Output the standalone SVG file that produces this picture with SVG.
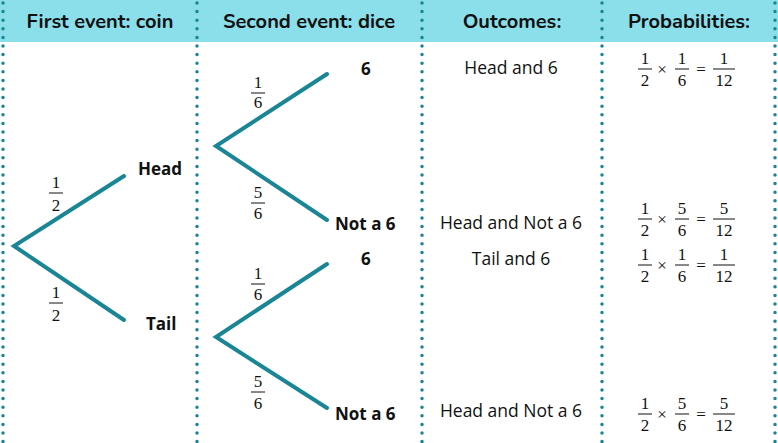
<svg xmlns="http://www.w3.org/2000/svg" width="778" height="443" viewBox="0 0 778 443">
<style>
.h{font-family:"Nunito","Open Sans","Liberation Sans",sans-serif;font-weight:bold;font-size:20px;fill:#111;text-anchor:middle}
.l{font-family:"Open Sans","Liberation Sans",sans-serif;font-weight:bold;font-size:17px;fill:#111}
.o{font-family:"Open Sans","Liberation Sans",sans-serif;font-size:17.5px;fill:#111;text-anchor:middle}
.f{font-family:"Liberation Serif",serif;font-size:17px;fill:#111;text-anchor:middle}
.fb{stroke:#111;stroke-width:1}
.br{stroke:#1a8594;stroke-width:4;stroke-linecap:round;fill:none}
.dot{stroke:#1a8594;stroke-width:3.5;stroke-linecap:round;stroke-dasharray:0 8.6}
</style>
<rect x="0" y="0" width="778" height="42" fill="#8adfeb"/>
<g id="dividers">
<line class="dot" x1="3" y1="3" x2="3" y2="443"/>
<line class="dot" x1="197" y1="3" x2="197" y2="443"/>
<line class="dot" x1="422" y1="3" x2="422" y2="443"/>
<line class="dot" x1="602" y1="3" x2="602" y2="443"/>
<line class="dot" x1="775" y1="3" x2="775" y2="443"/>
</g>
<g id="headers">
<text class="h" x="100" y="28">First event: coin</text>
<text class="h" x="309" y="28">Second event: dice</text>
<text class="h" x="512" y="28">Outcomes:</text>
<text class="h" x="689" y="28">Probabilities:</text>
</g>
<g id="connectors">
<polyline class="br" points="124,176 14,246 124,320"/>
<polyline class="br" points="327,74 216,146 327,220"/>
<polyline class="br" points="327,264 216,337 327,408"/>
</g>
<g id="node-head"><text class="l" x="138" y="175">Head</text></g>
<g id="node-tail"><text class="l" x="146" y="330">Tail</text></g>
<g id="node-6a"><text class="l" x="361" y="75">6</text></g>
<g id="node-not6a"><text class="l" x="335" y="230">Not a 6</text></g>
<g id="node-6b"><text class="l" x="361" y="265">6</text></g>
<g id="node-not6b"><text class="l" x="335" y="420">Not a 6</text></g>
<g id="branch-labels">
<text class="f" x="56" y="188">1</text><line class="fb" x1="49" y1="193" x2="63" y2="193"/><text class="f" x="56" y="211">2</text>
<text class="f" x="56" y="298">1</text><line class="fb" x1="49" y1="303" x2="63" y2="303"/><text class="f" x="56" y="321">2</text>
<text class="f" x="258" y="88">1</text><line class="fb" x1="251" y1="93" x2="265" y2="93"/><text class="f" x="258" y="108">6</text>
<text class="f" x="258" y="198">5</text><line class="fb" x1="251" y1="203" x2="265" y2="203"/><text class="f" x="258" y="219">6</text>
<text class="f" x="258" y="279">1</text><line class="fb" x1="251" y1="284" x2="265" y2="284"/><text class="f" x="258" y="300">6</text>
<text class="f" x="258" y="387">5</text><line class="fb" x1="251" y1="392" x2="265" y2="392"/><text class="f" x="258" y="409">6</text>
</g>
<g id="outcomes">
<text class="o" x="511" y="74">Head and 6</text>
<text class="o" x="511" y="229">Head and Not a 6</text>
<text class="o" x="511" y="265">Tail and 6</text>
<text class="o" x="511" y="417">Head and Not a 6</text>
</g>
<g id="probabilities">
<g>
<text class="f" x="645" y="64">1</text><line class="fb" x1="638" y1="69" x2="652" y2="69"/><text class="f" x="645" y="86">2</text>
<text class="f" x="662" y="75">×</text>
<text class="f" x="682" y="64">1</text><line class="fb" x1="675" y1="69" x2="689" y2="69"/><text class="f" x="682" y="86">6</text>
<text class="f" x="701" y="75" font-size="20">=</text>
<text class="f" x="724" y="64">1</text><line class="fb" x1="713" y1="69" x2="735" y2="69"/><text class="f" x="724" y="86">12</text>
</g>
<g transform="translate(0,150)">
<text class="f" x="645" y="64">1</text><line class="fb" x1="638" y1="69" x2="652" y2="69"/><text class="f" x="645" y="86">2</text>
<text class="f" x="662" y="75">×</text>
<text class="f" x="682" y="64">5</text><line class="fb" x1="675" y1="69" x2="689" y2="69"/><text class="f" x="682" y="86">6</text>
<text class="f" x="701" y="75" font-size="20">=</text>
<text class="f" x="724" y="64">5</text><line class="fb" x1="713" y1="69" x2="735" y2="69"/><text class="f" x="724" y="86">12</text>
</g>
<g transform="translate(0,196)">
<text class="f" x="645" y="64">1</text><line class="fb" x1="638" y1="69" x2="652" y2="69"/><text class="f" x="645" y="86">2</text>
<text class="f" x="662" y="75">×</text>
<text class="f" x="682" y="64">1</text><line class="fb" x1="675" y1="69" x2="689" y2="69"/><text class="f" x="682" y="86">6</text>
<text class="f" x="701" y="75" font-size="20">=</text>
<text class="f" x="724" y="64">1</text><line class="fb" x1="713" y1="69" x2="735" y2="69"/><text class="f" x="724" y="86">12</text>
</g>
<g transform="translate(0,345)">
<text class="f" x="645" y="64">1</text><line class="fb" x1="638" y1="69" x2="652" y2="69"/><text class="f" x="645" y="86">2</text>
<text class="f" x="662" y="75">×</text>
<text class="f" x="682" y="64">5</text><line class="fb" x1="675" y1="69" x2="689" y2="69"/><text class="f" x="682" y="86">6</text>
<text class="f" x="701" y="75" font-size="20">=</text>
<text class="f" x="724" y="64">5</text><line class="fb" x1="713" y1="69" x2="735" y2="69"/><text class="f" x="724" y="86">12</text>
</g>
</g>
</svg>
